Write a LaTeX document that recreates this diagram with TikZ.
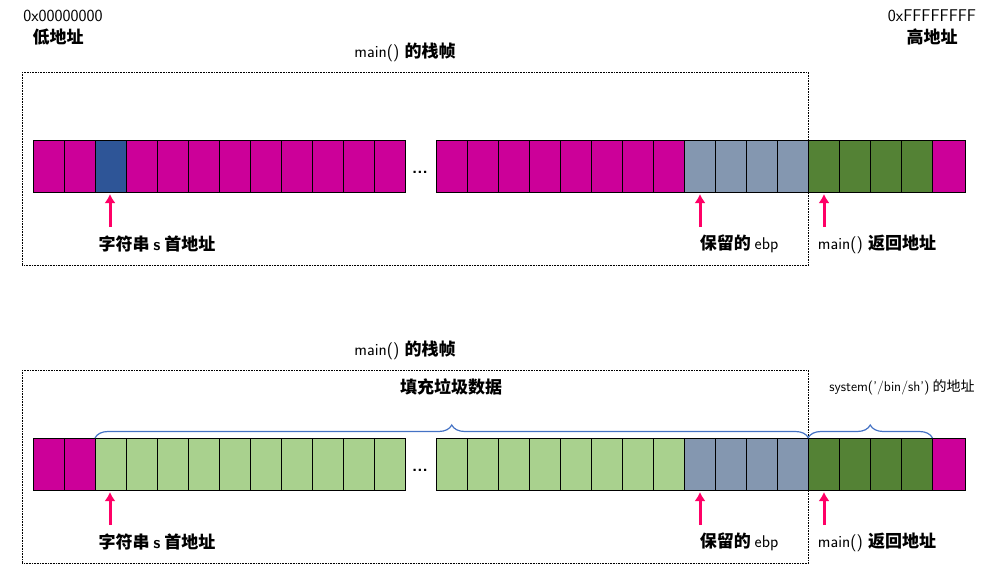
\documentclass[tikz,border=0pt]{standalone}
\usepackage{fontspec}
\usetikzlibrary{decorations.pathreplacing,arrows.meta}
\newfontfamily\cjk{Noto Sans CJK SC}
\definecolor{mag}{HTML}{CC0099}
\definecolor{dblue}{HTML}{2E5597}
\definecolor{gblue}{HTML}{8497B0}
\definecolor{dgreen}{HTML}{548235}
\definecolor{lgreen}{HTML}{A9D18E}
\definecolor{arr}{HTML}{FF0066}
\definecolor{brc}{HTML}{4472C4}
\tikzset{cell/.style={draw=black,line width=0.5pt,minimum width=31pt,minimum height=52pt,inner sep=0pt,anchor=north west},
 frame/.style={draw=black,densely dotted,line width=0.6pt},
 lbl/.style={font=\cjk\bfseries\fontsize{17}{19}\selectfont,inner sep=0pt},
 up/.style={draw=arr,line width=3pt,-{Latex[length=9pt,width=11pt]}},
 br/.style={draw=brc,line width=1.2pt,decorate,decoration={brace,amplitude=13pt}}}
\begin{document}
\begin{tikzpicture}[x=1pt,y=-1pt]
\useasboundingbox (0,0) rectangle (990,581);
\node[font=\sffamily\fontsize{17}{19}\selectfont,inner sep=0pt] (lo) at (63,16) {0x00000000};
\node[lbl] (lol) at (58,37) {低地址};
\node[font=\sffamily\fontsize{17}{19}\selectfont,inner sep=0pt] (hi) at (932,16) {0xFFFFFFFF};
\node[lbl] (hil) at (932,37) {高地址};
\foreach \r/\y in {a/140,b/438}{
  \node[lbl] (ttl\r) at (405,\y-88) {\sffamily\mdseries main() \cjk\bfseries 的栈帧};
  \node[frame,minimum width=786pt,minimum height=193pt,anchor=north west,inner sep=0pt] (fr\r) at (22,\y-68) {};
  \node[font=\sffamily\bfseries\fontsize{17}{19}\selectfont] (dots\r) at (420,\y+32) {...};
  \node[lbl] (l1\r) at (157,\y+104) {字符串 {\sffamily s} 首地址};
  \node[lbl] (l2\r) at (739,\y+104) {保留的 {\sffamily\mdseries ebp}};
  \node[lbl] (l3\r) at (877,\y+104) {\sffamily\mdseries main() \cjk\bfseries 返回地址};
  \coordinate (a1\r) at (110,\y+87); \coordinate (b1\r) at (110,\y+54);
  \coordinate (a2\r) at (700,\y+87); \coordinate (b2\r) at (700,\y+54);
  \coordinate (a3\r) at (824,\y+87); \coordinate (b3\r) at (824,\y+54);
  \draw[up] (a1\r) -- (b1\r); \draw[up] (a2\r) -- (b2\r); \draw[up] (a3\r) -- (b3\r);
}
\foreach \i in {0,...,11}{
  \pgfmathsetmacro\xx{33+31*\i}
  \ifnum\i=2 \node[cell,fill=dblue] (ta\i) at (\xx,140) {};
  \else \node[cell,fill=mag] (ta\i) at (\xx,140) {}; \fi
  \ifnum\i<2 \node[cell,fill=mag] (ba\i) at (\xx,438) {};
  \else \node[cell,fill=lgreen] (ba\i) at (\xx,438) {}; \fi
}
\foreach \i in {0,...,15}{
  \pgfmathsetmacro\xx{436+31*\i}
  \ifnum\i<8
    \node[cell,fill=mag] (tb\i) at (\xx,140) {};
    \node[cell,fill=lgreen] (bb\i) at (\xx,438) {};
  \else\ifnum\i<12
    \node[cell,fill=gblue] (tb\i) at (\xx,140) {};
    \node[cell,fill=gblue] (bb\i) at (\xx,438) {};
  \else
    \node[cell,fill=dgreen] (tb\i) at (\xx,140) {};
    \node[cell,fill=dgreen] (bb\i) at (\xx,438) {};
  \fi\fi
}
\node[cell,fill=mag,minimum width=33pt] (tend) at (932,140) {};
\node[cell,fill=mag,minimum width=33pt] (bend) at (932,438) {};
\draw[br] (ba2.north west) -- (bb11.north east);
\draw[br] (bb12.north west) -- (bb15.north east);
\node[lbl] (fill) at (451,387) {填充垃圾数据};
\node[font=\cjk\fontsize{14}{16}\selectfont,inner sep=0pt] (sys) at (902,387) {{\sffamily system('/bin/sh')} 的地址};
\end{tikzpicture}
\end{document}
